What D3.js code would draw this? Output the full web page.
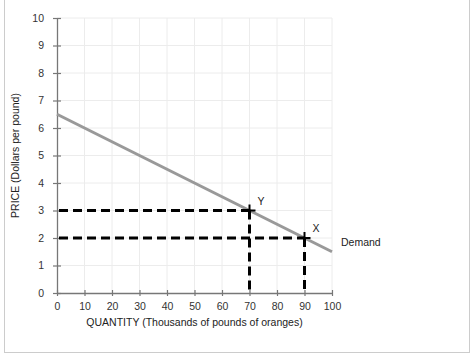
<!DOCTYPE html>
<html><head><meta charset="utf-8">
<script src="https://cdn.jsdelivr.net/npm/d3@7"></script>
<style>body{margin:0;background:#fff;}svg{display:block;font-family:"Liberation Sans",Arial,sans-serif;}</style>
</head><body>
<script>
const xTicks = [0,10,20,30,40,50,60,70,80,90,100];
const yTicks = [0,1,2,3,4,5,6,7,8,9,10];
const demandQ = [0,100];
const demandP = [6.5,1.5];
const pointNames = ["Y","X"];
const pointQ = [70,90];
const pointP = [3,2];
const curveLabel = "Demand";
const xTitle = "QUANTITY (Thousands of pounds of oranges)";
const yTitle = "PRICE (Dollars per pound)";

const W=474,H=356;
const svg=d3.select("body").append("svg").attr("width",W).attr("height",H);
svg.append("rect").attr("x",4.5).attr("y",-2).attr("width",465).attr("height",354.5).attr("fill","#fff").attr("stroke","#ccc").attr("stroke-width",1);

const x=d3.scaleLinear().domain([0,100]).range([57,332]);
const y=d3.scaleLinear().domain([0,10]).range([293,18]);

const g=svg.append("g");
g.selectAll(".vg").data(xTicks.slice(1)).join("line").attr("x1",d=>x(d)).attr("x2",d=>x(d)).attr("y1",y(10)).attr("y2",y(0)).attr("stroke","#ececec").attr("stroke-width",1);
g.selectAll(".hg").data(yTicks.slice(1)).join("line").attr("x1",x(0)).attr("x2",x(100)).attr("y1",d=>y(d)).attr("y2",d=>y(d)).attr("stroke","#ececec").attr("stroke-width",1);

const xa=svg.append("g").attr("transform",`translate(0,${y(0)})`).call(d3.axisBottom(x).tickValues(xTicks).tickSize(4).tickSizeOuter(0));
const ya=svg.append("g").attr("transform",`translate(${x(0)},0)`).call(d3.axisLeft(y).tickValues(yTicks).tickSize(4).tickSizeOuter(0));
[xa,ya].forEach(a=>{a.select(".domain").attr("stroke","#777").attr("stroke-width",1.3);
 a.selectAll(".tick line").attr("stroke","#777").attr("stroke-width",1.2);
 a.selectAll("text").attr("fill","#333").style("font-size","10.5px").style("font-family","'Liberation Sans',Arial,sans-serif");});
xa.selectAll(".tick line").attr("y1",-3).attr("y2",3);
xa.selectAll("text").attr("y",10);
ya.selectAll(".tick line").attr("x1",-4).attr("x2",4);
ya.selectAll("text").attr("x",-13);

const line=d3.line().x(d=>x(d[0])).y(d=>y(d[1]));
svg.append("path").datum(demandQ.map((q,i)=>[q,demandP[i]])).attr("d",line).attr("fill","none").attr("stroke","#999").attr("stroke-width",3);

const dash="9,5";
pointQ.forEach((q,i)=>{
  svg.append("line").attr("x1",x(0)+2).attr("x2",x(q)).attr("y1",y(pointP[i])).attr("y2",y(pointP[i])).attr("stroke","#000").attr("stroke-width",3).attr("stroke-dasharray",dash);
  svg.append("line").attr("x1",x(q)).attr("x2",x(q)).attr("y1",y(pointP[i])).attr("y2",y(0)).attr("stroke","#000").attr("stroke-width",3).attr("stroke-dasharray",dash);
  svg.append("line").attr("x1",x(q)-6).attr("x2",x(q)+6).attr("y1",y(pointP[i])).attr("y2",y(pointP[i])).attr("stroke","#000").attr("stroke-width",2);
  svg.append("line").attr("x1",x(q)).attr("x2",x(q)).attr("y1",y(pointP[i])-6).attr("y2",y(pointP[i])+6).attr("stroke","#000").attr("stroke-width",2);
  svg.append("text").attr("x",x(q)+8).attr("y",y(pointP[i])-6).text(pointNames[i]).attr("font-size","10.5px").attr("fill","#222");
});

svg.append("text").attr("x",341).attr("y",246).text(curveLabel).attr("font-size","10.5px").attr("fill","#222");
svg.append("text").attr("x",(x(0)+x(100))/2).attr("y",326).attr("text-anchor","middle").text(xTitle).attr("font-size","10.5px").attr("fill","#222");
svg.append("text").attr("transform",`translate(19,${(y(0)+y(10))/2}) rotate(-90)`).attr("text-anchor","middle").text(yTitle).attr("font-size","10.5px").attr("fill","#222");
</script>
</body></html>
